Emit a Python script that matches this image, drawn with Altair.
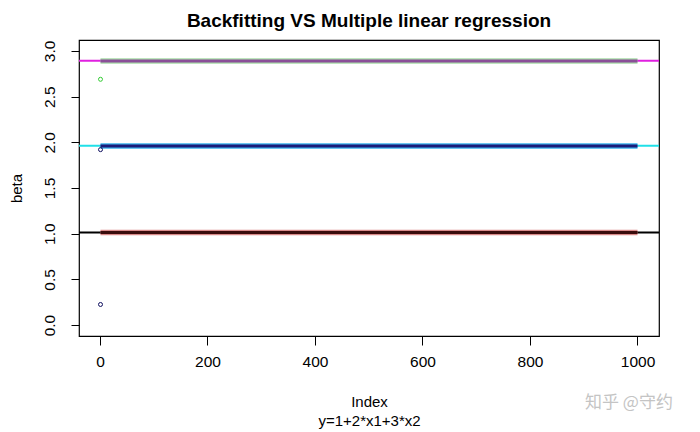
import altair as alt
import pandas as pd

# Converged estimates (points overlapping into bands from index 1 to 1000)
series = ["beta2", "beta1", "beta0"]
band_values = [2.89, 1.96, 1.012]
band_start = [1, 1, 1]
band_end = [1000, 1000, 1000]
band_edge_colors = ["#a8dca8", "#3cb4ec", "#d98a8a"]
band_core_colors = ["#8a4f98", "#1c1c7a", "#3a0c0c"]

# Multiple linear regression coefficients (horizontal lines)
mlr_values = [2.894, 1.963, 1.014]
mlr_colors = ["#e020e0", "#20e0e8", "#000000"]

# First iteration points
first_index = [1, 1, 1]
first_values = [2.69, 1.92, 0.225]
first_colors = ["#33cc33", "#101060", "#101060"]

x_ticks = [0, 200, 400, 600, 800, 1000]
y_ticks = [0.0, 0.5, 1.0, 1.5, 2.0, 2.5, 3.0]

band_rows = []
for s, v, a, b in zip(series, band_values, band_start, band_end):
    band_rows.append({"series": s, "index": a, "beta": v})
    band_rows.append({"series": s, "index": b, "beta": v})
bands = pd.DataFrame(band_rows)
mlr = pd.DataFrame({"series": series, "beta": mlr_values})
first = pd.DataFrame({"series": series, "index": first_index, "beta": first_values})

FONT = "Liberation Sans"
xscale = alt.Scale(domain=[-39, 1040], nice=False, zero=False)
yscale = alt.Scale(domain=[-0.12, 3.12], nice=False, zero=False)

xaxis = alt.Axis(values=x_ticks, format="d", title=["Index", "y=1+2*x1+3*x2"], grid=False,
                 domain=False, tickSize=9, tickColor="black", labelPadding=9,
                 labelFont=FONT, labelFontSize=15.5, labelColor="black",
                 titleFont=FONT, titleFontSize=15, titleFontWeight="normal",
                 titleColor="black", titlePadding=25, titleLineHeight=19)
yaxis = alt.Axis(values=y_ticks, format=".1f", title="beta", grid=False,
                 domain=False, tickSize=8, tickColor="black", labelAngle=-90,
                 labelAlign="center", labelBaseline="bottom", labelPadding=14,
                 labelFont=FONT, labelFontSize=15.5, labelColor="black",
                 titleFont=FONT, titleFontSize=15, titleFontWeight="normal",
                 titleColor="black", titlePadding=18)

ablines = alt.Chart(mlr).mark_rule(strokeWidth=2).encode(
    y=alt.Y("beta:Q", scale=yscale, axis=yaxis),
    color=alt.Color("series:N", scale=alt.Scale(domain=series, range=mlr_colors), legend=None),
)

band_edge = alt.Chart(bands).mark_line(strokeWidth=5.5).encode(
    x=alt.X("index:Q", scale=xscale, axis=xaxis),
    y=alt.Y("beta:Q", scale=yscale),
    detail="series:N",
    stroke=alt.Stroke("series:N", scale=alt.Scale(domain=series, range=band_edge_colors), legend=None),
)
band_core = alt.Chart(bands).mark_line(strokeWidth=3).encode(
    x=alt.X("index:Q", scale=xscale),
    y=alt.Y("beta:Q", scale=yscale),
    detail="series:N",
    stroke=alt.Stroke("series:N", scale=alt.Scale(domain=series, range=band_core_colors), legend=None),
)

points = alt.Chart(first).mark_point(filled=False, size=16, strokeWidth=1, opacity=1).encode(
    x=alt.X("index:Q", scale=xscale),
    y=alt.Y("beta:Q", scale=yscale),
    stroke=alt.Stroke("series:N", scale=alt.Scale(domain=series, range=first_colors), legend=None),
)

watermark = alt.Chart(pd.DataFrame({"t": ["知乎 @守约"]})).mark_text(
    font="Noto Sans CJK SC", fontSize=17, color="#c4c4c4", align="left", baseline="middle"
).encode(x=alt.value(506), y=alt.value(363), text="t:N")

chart = alt.layer(ablines, band_edge, band_core, points, watermark).resolve_scale(
    color="independent", stroke="independent"
).properties(
    width=580, height=296,
    title=alt.TitleParams("Backfitting VS Multiple linear regression", font=FONT,
                          fontSize=19, fontWeight="bold", color="black",
                          anchor="middle", offset=9),
    autosize=alt.AutoSizeParams(type="none"),
    padding={"left": 71, "top": 32, "right": 33, "bottom": 96},
).configure_view(stroke="black", strokeWidth=1.2)

chart.save("out.html", embed_options={"renderer": "svg", "actions": False})
